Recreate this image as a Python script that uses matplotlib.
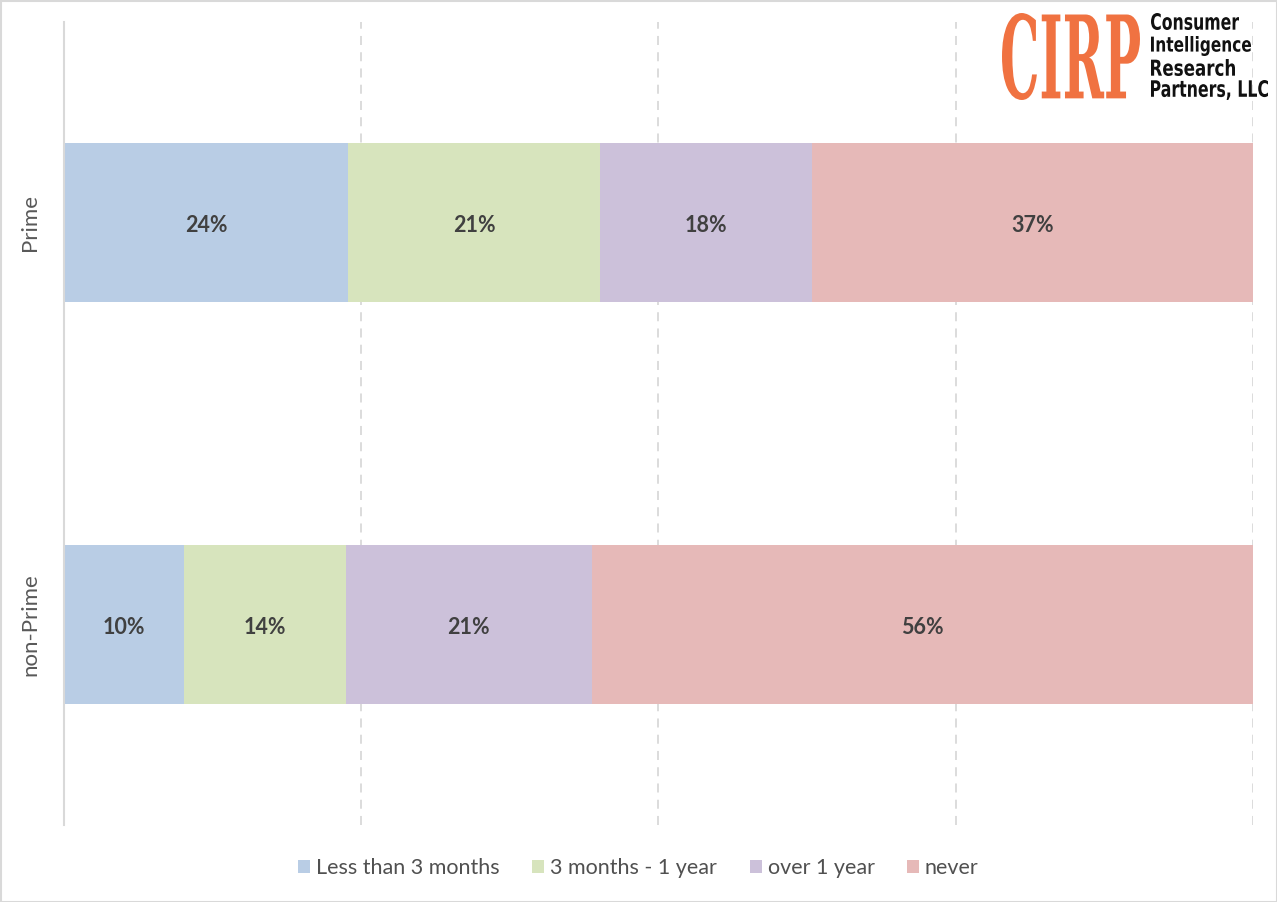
import matplotlib
matplotlib.use("Agg")
import matplotlib.pyplot as plt
from matplotlib.textpath import TextPath
from matplotlib.patches import PathPatch, Rectangle
from matplotlib.font_manager import FontProperties
from matplotlib.transforms import Affine2D, IdentityTransform

categories = ["Prime", "non-Prime"]
series = ["Less than 3 months", "3 months - 1 year", "over 1 year", "never"]
values = {
    "Less than 3 months": [23.9, 10.1],
    "3 months - 1 year": [21.2, 13.6],
    "over 1 year": [17.8, 20.7],
    "never": [37.1, 55.6],
}
colors = ["#B9CDE5", "#D7E4BD", "#CCC1DA", "#E6B9B8"]

W, H = 1277, 902
fig = plt.figure(figsize=(W / 100, H / 100), dpi=100)
ax = fig.add_axes([64 / W, 1 - 825 / H, (1253 - 64) / W, (825 - 22) / H])

ypos = list(range(len(categories)))
left = [0.0] * len(categories)
for s, c in zip(series, colors):
    vals = values[s]
    bars = ax.barh(ypos, vals, left=left, height=0.396, color=c, label=s, zorder=2)
    for b, v in zip(bars, vals):
        ax.text(b.get_x() + b.get_width() / 2, b.get_y() + b.get_height() / 2 + 0.008,
                f"{v:.0f}%", ha="center", va="center", fontsize=15.5,
                fontweight="bold", color="#404040", family="Lato", zorder=3)
    left = [l + v for l, v in zip(left, vals)]

ax.set_xlim(0, 100)
ax.set_ylim(1.5, -0.5)
ax.set_xticks([0, 25, 50, 75, 100])
ax.set_xticklabels([])
ax.tick_params(axis="both", length=0)
ax.grid(axis="x", color="#D9D9D9", linestyle=(0, (5, 4)), linewidth=1.3, zorder=0)
ax.set_yticks(ypos)
ax.set_yticklabels(categories, rotation=90, va="center", fontsize=16,
                   color="#595959", family="Lato")
ax.tick_params(axis="y", pad=17)
for sp in ["top", "right", "bottom"]:
    ax.spines[sp].set_visible(False)
ax.spines["left"].set_color("#D9D9D9")
ax.spines["left"].set_linewidth(1.5)
ax.set_facecolor("none")

leg = fig.legend(loc="center", bbox_to_anchor=(0.5, 1 - 868 / H), ncol=4,
                 frameon=False, handlelength=0.56, handleheight=0.56,
                 handletextpad=0.28, columnspacing=1.5,
                 prop={"family": "Lato", "size": 15.5})
for t in leg.get_texts():
    t.set_color("#505050")

# border
fig.patches.append(Rectangle((0.5, 0.5), W - 1, H - 1, transform=IdentityTransform(),
                             fill=False, edgecolor="#D9D9D9", linewidth=1.5))

def place_text(s, x0, y0_top, w, h, color, weight="bold", family="DejaVu Sans"):
    fp = FontProperties(family=family, weight=weight)
    tp = TextPath((0, 0), s, size=100, prop=fp)
    ext = tp.get_extents()
    sx = w / ext.width
    sy = h / ext.height
    tr = Affine2D().translate(-ext.x0, -ext.y0).scale(sx, sy).translate(x0, H - y0_top - h)
    patch = PathPatch(tr.transform_path(tp), facecolor=color, edgecolor="none",
                      transform=IdentityTransform())
    fig.patches.append(patch)

place_text("CIRP", 1002, 13, 138, 87, "#F07241", weight="bold", family="DejaVu Serif")
lines = ["Consumer", "Intelligence", "Research", "Partners, LLC"]
tops = [13, 36, 59, 80]
widths = [88, 100, 84, 117]
heights = [17, 20, 17, 20]
for ln, t, w_, h_ in zip(lines, tops, widths, heights):
    place_text(ln, 1151, t, w_, h_, "#111111")

fig.savefig("out.png", dpi=100)
